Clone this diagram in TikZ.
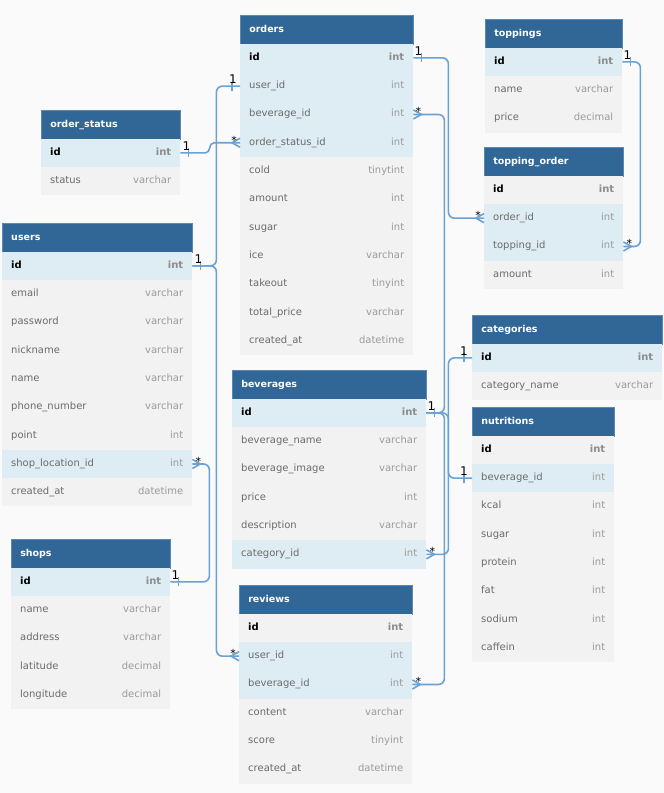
\documentclass[tikz,border=0pt]{standalone}
\usepackage{fontspec}
\setmainfont{DejaVu Sans}
\usetikzlibrary{calc}
\definecolor{bgc}{HTML}{FAFAFA}
\definecolor{hdrc}{HTML}{316796}
\definecolor{hdrb}{HTML}{5A88B2}
\definecolor{hlc}{HTML}{DEECF4}
\definecolor{plc}{HTML}{F2F2F2}
\definecolor{linec}{HTML}{6AA2D6}
\definecolor{fieldc}{HTML}{6B6B6B}
\definecolor{typec}{HTML}{9B9B9B}
\definecolor{keytc}{HTML}{8C8C8C}
\newcommand\fmtk[2]{{\bfseries\color{black}#1}\hfill{\bfseries\color{keytc}#2}}
\newcommand\fmtn[2]{{\color{fieldc}#1}\hfill{\color{typec}#2}}
\tikzset{
  hdr/.style={fill=hdrc, draw=hdrb, line width=0.5pt, text=white, minimum height=28.5pt, inner xsep=9pt,
    font=\fontsize{9.5}{11}\selectfont\bfseries, align=left, text height=7.5pt, text depth=2.5pt},
  rowbox/.style={minimum height=28.3pt, inner xsep=9pt, font=\fontsize{10}{12}\selectfont,
    align=left, text height=7.5pt, text depth=2.5pt},
  conn/.style={draw=linec, line width=1.6pt, rounded corners=6pt},
  mk/.style={draw=linec, line width=1.6pt},
  lbl/.style={font=\fontsize{12}{14}\selectfont, text=black, inner sep=0pt, anchor=base},
  slbl/.style={font=\fontsize{11}{13}\selectfont, text=black, inner sep=0pt, anchor=base}
}
\newcommand\dbtable[6]{%
  \pgfmathsetmacro\tw{#4-18}%
  \node[hdr, minimum width=#4pt, text width=\tw pt, anchor=north west] (#1) at (#2,#3) {#5};
  \foreach[count=\i] \fn/\ty/\fc/\kk in {#6}{%
    \node[rowbox, fill=\fc, minimum width=#4pt, text width=\tw pt, anchor=north west]
      (#1-\i) at (#2,#3+28.5+\i*28.3-28.3) {\csname fmt\kk\endcsname{\fn}{\ty}};
  }%
}
\newcommand\onemark[2]{\draw[mk] ($(#1)+(#2*8,-4.5)$) -- ($(#1)+(#2*8,4.5)$);}
\newcommand\manymark[2]{\draw[mk] ($(#1)+(0,-4.5)$) -- ($(#1)+(#2*8,0)$) -- ($(#1)+(0,4.5)$);}
\begin{document}
\begin{tikzpicture}[x=1pt,y=-1pt]
\fill[bgc] (0,0) rectangle (664,793);
\useasboundingbox (0,0) rectangle (664,793);

\dbtable{orders}{240}{15}{173}{orders}{id/int/hlc/k, user\_id/int/hlc/n, beverage\_id/int/hlc/n, order\_status\_id/int/hlc/n, cold/tinytint/plc/n, amount/int/plc/n, sugar/int/plc/n, ice/varchar/plc/n, takeout/tinyint/plc/n, total\_price/varchar/plc/n, created\_at/datetime/plc/n}
\dbtable{orderstatus}{41}{110}{139}{order\_status}{id/int/hlc/k, status/varchar/plc/n}
\dbtable{toppings}{485}{19}{137}{toppings}{id/int/hlc/k, name/varchar/plc/n, price/decimal/plc/n}
\dbtable{toporder}{484}{147}{139}{topping\_order}{id/int/plc/k, order\_id/int/hlc/n, topping\_id/int/hlc/n, amount/int/plc/n}
\dbtable{users}{2}{223}{190}{users}{id/int/hlc/k, email/varchar/plc/n, password/varchar/plc/n, nickname/varchar/plc/n, name/varchar/plc/n, phone\_number/varchar/plc/n, point/int/plc/n, shop\_location\_id/int/hlc/n, created\_at/datetime/plc/n}
\dbtable{shops}{11}{539}{159}{shops}{id/int/hlc/k, name/varchar/plc/n, address/varchar/plc/n, latitude/decimal/plc/n, longitude/decimal/plc/n}
\dbtable{beverages}{232}{370}{194}{beverages}{id/int/hlc/k, beverage\_name/varchar/plc/n, beverage\_image/varchar/plc/n, price/int/plc/n, description/varchar/plc/n, category\_id/int/hlc/n}
\dbtable{reviews}{239}{585}{173}{reviews}{id/int/plc/k, user\_id/int/hlc/n, beverage\_id/int/hlc/n, content/varchar/plc/n, score/tinyint/plc/n, created\_at/datetime/plc/n}
\dbtable{categories}{472}{315}{190}{categories}{id/int/hlc/k, category\_name/varchar/plc/n}
\dbtable{nutritions}{472}{407}{142}{nutritions}{id/int/plc/k, beverage\_id/int/hlc/n, kcal/int/plc/n, sugar/int/plc/n, protein/int/plc/n, fat/int/plc/n, sodium/int/plc/n, caffein/int/plc/n}

% connectors
\draw[conn] (orders-1.east) -- ++(35,0) |- (toporder-2.west);
\draw[conn] (toppings-1.east) -- ++(18,0) |- (toporder-3.east);
\coordinate (osa) at ($(orderstatus-1.east)+(25,0)$);
\coordinate (osb) at ($(orders-4.west)+(-26,0)$);
\draw[mk] (orderstatus-1.east) -- (osa) .. controls ($(osa)+(6,0)$) and ($(osb)+(-6,0)$) .. (osb) -- (orders-4.west);
\draw[conn] (users-1.east) -- ++(24,0) |- (orders-2.west);
\draw[conn] (users-1.east) -- ++(24,0) |- (reviews-2.west);
\draw[conn] (shops-1.east) -- ++(39,0) |- (users-8.east);
\draw[conn] (beverages-1.east) -- ++(18,0) |- (orders-3.east);
\draw[conn] (beverages-1.east) -- ++(18,0) |- (reviews-3.east);
\draw[conn] (beverages-1.east) -- ++(22,0) |- (nutritions-2.west);
\draw[conn] (beverages-6.east) -- ++(22,0) |- (categories-1.west);

% one ends
\onemark{orders-1.east}{1}
\onemark{orderstatus-1.east}{1}
\onemark{toppings-1.east}{1}
\onemark{users-1.east}{1}
\onemark{orders-2.west}{-1}
\onemark{shops-1.east}{1}
\onemark{beverages-1.east}{1}
\onemark{categories-1.west}{-1}
\onemark{nutritions-2.west}{-1}
% many ends
\manymark{toporder-2.west}{-1}
\manymark{toporder-3.east}{1}
\manymark{orders-4.west}{-1}
\manymark{reviews-2.west}{-1}
\manymark{users-8.east}{1}
\manymark{orders-3.east}{1}
\manymark{reviews-3.east}{1}
\manymark{beverages-6.east}{1}

% labels
\node[lbl] (l1) at ($(orders-1.east)+(5,-2.5)$) {1};
\node[lbl] (l2) at ($(orderstatus-1.east)+(6,-2.5)$) {1};
\node[lbl] (l3) at ($(toppings-1.east)+(5,-2.5)$) {1};
\node[lbl] (l4) at ($(users-1.east)+(6,-2.5)$) {1};
\node[lbl] (l5) at ($(orders-2.west)+(-7,-2.5)$) {1};
\node[lbl] (l6) at ($(shops-1.east)+(5,-2.5)$) {1};
\node[lbl] (l7) at ($(beverages-1.east)+(5,-2.5)$) {1};
\node[lbl] (l8) at ($(categories-1.west)+(-8,-2.5)$) {1};
\node[lbl] (l9) at ($(nutritions-2.west)+(-8,-2.5)$) {1};
\node[slbl] (s1) at ($(toporder-2.west)+(-6,1.5)$) {*};
\node[slbl] (s2) at ($(toporder-3.east)+(6,1.5)$) {*};
\node[slbl] (s3) at ($(orders-4.west)+(-6,1.5)$) {*};
\node[slbl] (s4) at ($(reviews-2.west)+(-6,1.5)$) {*};
\node[slbl] (s5) at ($(users-8.east)+(6,1.5)$) {*};
\node[slbl] (s6) at ($(orders-3.east)+(5,1.5)$) {*};
\node[slbl] (s7) at ($(reviews-3.east)+(6,1.5)$) {*};
\node[slbl] (s8) at ($(beverages-6.east)+(6,1.5)$) {*};
\end{tikzpicture}
\end{document}
